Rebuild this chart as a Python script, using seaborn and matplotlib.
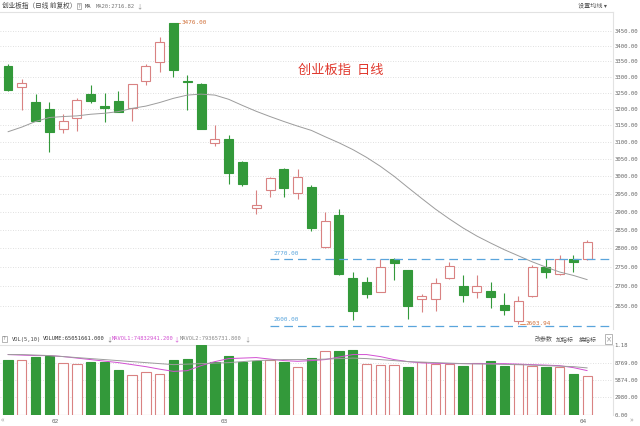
import numpy as np
import matplotlib
matplotlib.use("Agg")
import matplotlib.pyplot as plt
from matplotlib.ticker import NullLocator, NullFormatter
import seaborn as sns

# daily candles (创业板指)
opens = [3335, 3268, 3221, 3201, 3140, 3173, 3246, 3210, 3225, 3204,
         3288, 3348, 3474, 3287, 3277, 3097, 3109, 3042, 2911, 2960,
         3020, 2952, 2969, 2803, 2891, 2722, 2711, 2686, 2772, 2741,
         2668, 2667, 2720, 2701, 2686, 2688, 2653, 2612, 2674, 2750,
         2733, 2772, 2770]
highs = [3340, 3295, 3247, 3221, 3186, 3233, 3274, 3249, 3257, 3278,
         3340, 3428, 3476, 3307, 3280, 3152, 3121, 3043, 2961, 2997,
         3025, 3020, 2975, 2898, 2907, 2738, 2725, 2770, 2773, 2742,
         2681, 2720, 2764, 2730, 2730, 2711, 2683, 2675, 2755, 2772,
         2783, 2781, 2823]
lows = [3255, 3198, 3162, 3071, 3128, 3133, 3220, 3161, 3191, 3164,
        3274, 3315, 3300, 3198, 3139, 3088, 2977, 2972, 2893, 2940,
        2940, 2935, 2848, 2802, 2730, 2614, 2670, 2685, 2717, 2616,
        2635, 2636, 2719, 2660, 2670, 2645, 2626, 2603.94, 2673, 2720,
        2728, 2736, 2769]
closes = [3259, 3281, 3164, 3131, 3164, 3227, 3225, 3204, 3192, 3277,
          3335, 3414, 3322, 3284, 3140, 3109, 3011, 2979, 2918, 2996,
          2968, 2998, 2854, 2875, 2731, 2637, 2681, 2750, 2762, 2648,
          2675, 2709, 2753, 2677, 2701, 2673, 2638, 2661, 2749, 2737,
          2772, 2763, 2818]
ma20 = [3131, 3145, 3162, 3174, 3177, 3179, 3184, 3187, 3192, 3202,
        3209, 3220, 3233, 3243, 3246, 3243, 3230, 3211, 3193, 3177,
        3162, 3148, 3135, 3116, 3098, 3078, 3055, 3029, 3000, 2968,
        2937, 2907, 2880, 2855, 2833, 2814, 2796, 2780, 2764, 2750,
        2737, 2728, 2717]

# volume in 万
volume = [9339, 9339, 9730, 10018, 8779, 8660, 8881, 8881, 7641, 6792,
          7250, 6962, 9220, 9509, 11800, 8949, 9899, 8949, 9169, 9220,
          8949, 8099, 9628, 10748, 10748, 11037, 8660, 8371, 8371, 8099,
          8881, 8609, 8609, 8201, 8779, 9169, 8201, 8609, 8320, 8032,
          8032, 6962, 6505]
mavol1 = [10188, 10100, 10018, 10018, 9848, 9594, 9339, 9084, 8830, 8490,
          8150, 7726, 7352, 7471, 8320, 8999, 9509, 9594, 9679, 9424,
          9169, 9050, 9169, 9339, 9764, 10188, 10188, 9848, 9339, 8999,
          8779, 8711, 8660, 8660, 8660, 8660, 8660, 8575, 8490, 8405,
          8320, 7981, 7483]
mavol2 = [10188, 10188, 10100, 10018, 9848, 9679, 9509, 9339, 9169, 8999,
          8830, 8660, 8490, 8575, 8660, 8745, 8830, 8999, 9169, 9254,
          9339, 9339, 9339, 9424, 9509, 9594, 9509, 9339, 9169, 8999,
          8915, 8830, 8745, 8660, 8609, 8575, 8524, 8490, 8405, 8320,
          8235, 8150, 7937]

price_ticks = list(range(2650, 3451, 50))
vol_ticks = [0, 2980, 5874, 8769, 11800]
vol_tick_labels = ["0.00", "2980.00", "5874.00", "8769.00", "1.18"]
month_labels = ["02", "03", "04"]
month_pos = [3.4, 15.66, 41.7]

RED = "#d98282"
GREEN = "#33993a"
GRID = "#d6d6d6"
TXT = "#666666"
BLUE = "#5aa5dc"
MONO = "DejaVu Sans Mono"

sns.set_theme(style="white")
plt.rcParams["font.family"] = ["Noto Sans CJK SC", "DejaVu Sans"]

W, H = 640, 426
fig = plt.figure(figsize=(6.4, 4.26), dpi=100)


def box(x0, y0, x1, y1):
    return [x0 / W, 1 - y1 / H, (x1 - x0) / W, (y1 - y0) / H]


ax = fig.add_axes(box(0, 12, 613, 329))
axv = fig.add_axes(box(0, 345, 613, 415))

x = np.arange(len(opens))
o = np.array(opens, float)
c = np.array(closes, float)
up = c >= o
cols = np.where(up, RED, GREEN)
xlim = (-0.58, 43.87)

# candles
ax.vlines(x, lows, highs, colors=cols, linewidth=0.8, zorder=2)
body_lo = np.minimum(o, c)
body_h = np.maximum(np.abs(c - o), 0.5)
ax.bar(x, body_h, bottom=body_lo, width=0.65,
       color=np.where(up, "white", GREEN), edgecolor=cols, linewidth=0.8, zorder=3)
sns.lineplot(x=x, y=ma20, ax=ax, color="#9c9c9c", linewidth=0.7, zorder=4)

ax.set_yscale("log")
ax.set_ylim(2591.4, 3512)
ax.set_xlim(*xlim)
ax.yaxis.set_minor_locator(NullLocator())
ax.yaxis.set_minor_formatter(NullFormatter())
ax.set_yticks(price_ticks)
ax.set_yticklabels([f"{t:.2f}" for t in price_ticks])
ax.yaxis.tick_right()
ax.tick_params(axis="y", length=0, pad=1, labelsize=4.1, labelcolor=TXT)
for lab in ax.get_yticklabels():
    lab.set_fontfamily(MONO)
ax.set_xticks([])
ax.grid(axis="y", linestyle=(0, (1, 2)), color=GRID, linewidth=0.6)
for s in ["left", "bottom"]:
    ax.spines[s].set_visible(False)
for s in ["top", "right"]:
    ax.spines[s].set_color("#e2e2e2")
    ax.spines[s].set_linewidth(0.8)

# support / resistance lines
x_line = 19.0
ax.hlines([2770, 2600], x_line, xlim[1], colors=BLUE, linestyles=(0, (7, 4)), linewidth=0.9, zorder=5)
for lvl in [2770, 2600]:
    ax.text(x_line + 0.25, lvl * 1.0035, f"{lvl:.2f}", fontsize=4.3, color=BLUE,
            family=MONO, va="bottom", ha="left")

# high / low markers
ax.plot([12.15, 12.5], [3476, 3476], color="#e0783c", linewidth=0.6)
ax.text(12.55, 3476, "3476.00", fontsize=4.3, color="#d0703a", family=MONO, va="center")
ax.plot([37.15, 37.5], [2603.94, 2603.94], color="#e0783c", linewidth=0.6)
ax.text(37.55, 2603.94, "2603.94", fontsize=4.3, color="#d0703a", family=MONO, va="center")

ax.text((298 - 8) / 13.79, 3322, "创业板指  日线", fontsize=9.5, color="#e0392e",
        va="center", ha="left")

# volume panel
cl = np.array(closes)
vol_up = np.concatenate([[cl[0] >= o[0]], cl[1:] >= cl[:-1]])
vcols = np.where(vol_up, RED, GREEN)
axv.bar(x, volume, width=0.68, color=np.where(vol_up, "white", GREEN),
        edgecolor=vcols, linewidth=0.8, zorder=3)
sns.lineplot(x=x, y=mavol1, ax=axv, color="#d24fd2", linewidth=0.7, zorder=4)
sns.lineplot(x=x, y=mavol2, ax=axv, color="#9c9c9c", linewidth=0.7, zorder=4)
axv.set_xlim(*xlim)
axv.set_ylim(0, 11800)
axv.set_yticks(vol_ticks)
axv.set_yticklabels(vol_tick_labels)
axv.yaxis.tick_right()
axv.tick_params(axis="y", length=0, pad=1, labelsize=4.1, labelcolor=TXT)
for lab in axv.get_yticklabels():
    lab.set_fontfamily(MONO)
axv.set_xticks(month_pos)
axv.set_xticklabels(month_labels)
axv.tick_params(axis="x", length=0, pad=3, labelsize=4.3, labelcolor=TXT)
for lab in axv.get_xticklabels():
    lab.set_fontfamily(MONO)
axv.grid(axis="y", linestyle=(0, (1, 2)), color=GRID, linewidth=0.6)
for s in ["left", "bottom"]:
    axv.spines[s].set_visible(False)
for s in ["top", "right"]:
    axv.spines[s].set_color("#e2e2e2")
    axv.spines[s].set_linewidth(0.8)


def px(xp, yp, s, **kw):
    kw.setdefault("fontsize", 4.4)
    kw.setdefault("color", "#444444")
    fig.text(xp / W, 1 - yp / H, s, va="center", ha="left", **kw)


# header lines
px(2, 6, "创业板指（日线 前复权）", fontsize=4.8)
px(77.5, 6, "?", fontsize=4.2, color="#777777",
   bbox=dict(boxstyle="square,pad=0.15", fc="white", ec="#999999", lw=0.5))
px(85, 6, "MA", family=MONO, fontsize=4.0)
px(96, 6, "MA20:2716.82", family=MONO, fontsize=4.0, color="#777777")
px(136, 6, "↓", fontsize=4.4, color="#888888")
px(578, 6, "设置均线 ▾", fontsize=4.4, color="#555555")

px(3, 339, "?", fontsize=4.2, color="#777777",
   bbox=dict(boxstyle="square,pad=0.15", fc="white", ec="#999999", lw=0.5))
px(12, 339, "VOL(5,10)", family=MONO, fontsize=3.9)
px(43, 339, "VOLUME:65051661.000", family=MONO, fontsize=3.9, color="#333333")
px(106, 339, "↓", fontsize=4.4, color="#666666")
px(112, 339, "MAVOL1:74832941.200", family=MONO, fontsize=3.9, color="#d24fd2")
px(173, 339, "↓", fontsize=4.4, color="#d24fd2")
px(180, 339, "MAVOL2:79365731.800", family=MONO, fontsize=3.9, color="#888888")
px(244, 339, "↓", fontsize=4.4, color="#888888")
px(535, 339, "改参数", fontsize=4.3, color="#555555")
px(556, 339, "加指标", fontsize=4.3, color="#555555")
px(579, 339, "换指标", fontsize=4.3, color="#555555")
px(605.5, 339, "×", fontsize=4.4, color="#777777",
   bbox=dict(boxstyle="square,pad=0.1", fc="white", ec="#999999", lw=0.5))
px(1, 421, "«", fontsize=5.5, color="#999999")
px(630, 421, "»", fontsize=5.5, color="#999999")

fig.savefig("out.png", dpi=100)
